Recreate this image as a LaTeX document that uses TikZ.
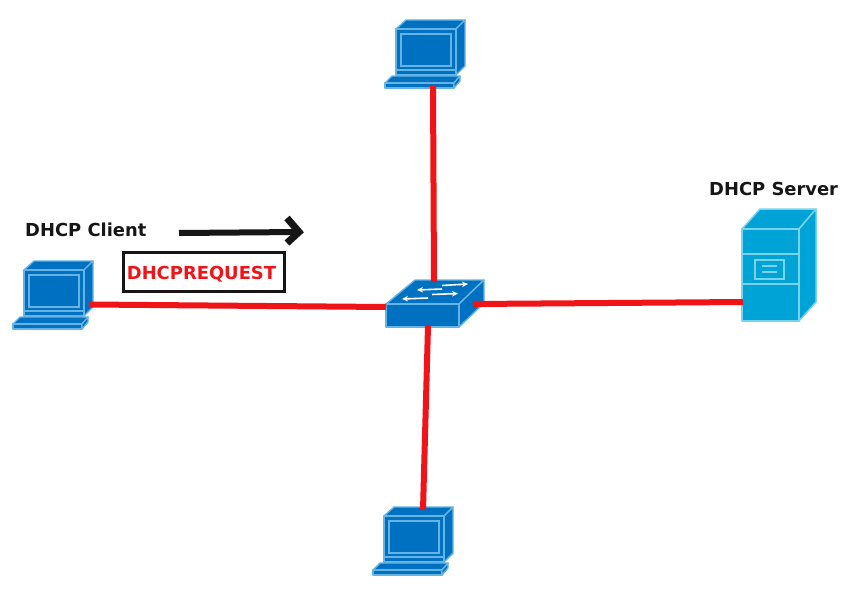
\documentclass[tikz,border=0pt]{standalone}
\usepackage{fontspec}
\usetikzlibrary{arrows.meta}
\setmainfont{DejaVu Sans}
\definecolor{devblue}{HTML}{0070C0}
\definecolor{devedge}{HTML}{66B4E6}
\definecolor{srvblue}{HTML}{00A3D6}
\definecolor{srvedge}{HTML}{7AD2EC}
\definecolor{linkred}{HTML}{F01418}
\definecolor{inkdark}{HTML}{161616}
\tikzset{
  face/.style={fill=devblue,draw=devedge,line width=1.4pt,line join=round},
  sface/.style={fill=srvblue,draw=srvedge,line width=1.5pt,line join=round},
  link/.style={draw=linkred,line width=6pt},
  lbl/.style={font=\bfseries\fontsize{17.9}{20}\selectfont,text=inkdark,inner sep=0pt},
  pics/laptop/.style={code={
    \path[face] (24,270) -- (34,261) -- (93,261) -- (84,270) -- cycle;
    \path[face] (84,270) -- (93,261) -- (93,307) -- (84,316) -- cycle;
    \path[face] (24,270) rectangle (84,316);
    \draw[devedge,line width=1.4pt] (29,275) rectangle (79,307);
    \draw[devedge,line width=1.4pt] (24,311) -- (84,311);
    \path[face] (13,324) -- (20,317) -- (88,317) -- (82,324) -- cycle;
    \path[face] (13,324) rectangle (82,329);
    \path[face] (82,324) -- (88,317) -- (88,322) -- (82,329) -- cycle;
  }}
}
\begin{document}
\begin{tikzpicture}[x=1pt,y=-1pt]
\useasboundingbox (0,0) rectangle (859,594);
\fill[white] (0,0) rectangle (859,594);
% devices
\pic at (0,0) {laptop};
\pic at (372,-241) {laptop};
\pic at (360,246) {laptop};
% switch
\path[face] (386,304) -- (415,280) -- (484,280) -- (459,304) -- cycle;
\path[face] (459,304) -- (484,280) -- (484,303) -- (459,327) -- cycle;
\path[face] (386,304) rectangle (459,327);
\foreach \xa/\ya/\xb/\yb in {442/285.5/468/284, 442/289/417/290, 432/294.5/458/293.5, 428/298/402/299}
  \draw[white,line width=1.6pt,-{Stealth[length=6pt,width=5.5pt]}] (\xa,\ya) -- (\xb,\yb);
% server
\path[sface] (742,229) -- (760,209) -- (816,209) -- (799,229) -- cycle;
\path[sface] (799,229) -- (816,209) -- (816,302) -- (799,321) -- cycle;
\path[sface] (742,229) rectangle (799,321);
\draw[srvedge,line width=1.5pt] (742,254) -- (799,254) (742,284) -- (799,284);
\draw[srvedge,line width=1.4pt] (755,260) rectangle (784,279);
\draw[srvedge,line width=1.4pt] (762,266) -- (777,266) (762,272) -- (777,272);
% anchors
\coordinate (client) at (90,304.5);
\coordinate (swL) at (386,307);
\coordinate (top) at (433,86);
\coordinate (swT) at (434,282);
\coordinate (swR) at (473,304);
\coordinate (server) at (743,302);
\coordinate (swB) at (428,326);
\coordinate (bottom) at (423,510);
\draw[link] (client) -- (swL);
\draw[link] (top) -- (swT);
\draw[link] (swR) -- (server);
\draw[link] (swB) -- (bottom);
% labels
\node[lbl,anchor=west] (clientlbl) at (25,230) {DHCP Client};
\node[lbl,anchor=west] (serverlbl) at (709,189) {DHCP Server};
\node[draw=inkdark,line width=3.2pt,minimum width=160.5pt,minimum height=38.5pt,inner sep=0pt] (msgbox) at (204,272) {};
\node[inner sep=0pt,text=linkred,font=\bfseries\fontsize{17.9}{20}\selectfont] (msg) at (201.5,274) {DHCPREQUEST};
% arrow
\coordinate (arrowS) at (179,233);
\coordinate (arrowE) at (299,232);
\draw[inkdark,line width=6pt] (arrowS) -- (arrowE);
\draw[inkdark,line width=7pt] (287,218) -- (arrowE) -- (287,243);
\end{tikzpicture}
\end{document}
